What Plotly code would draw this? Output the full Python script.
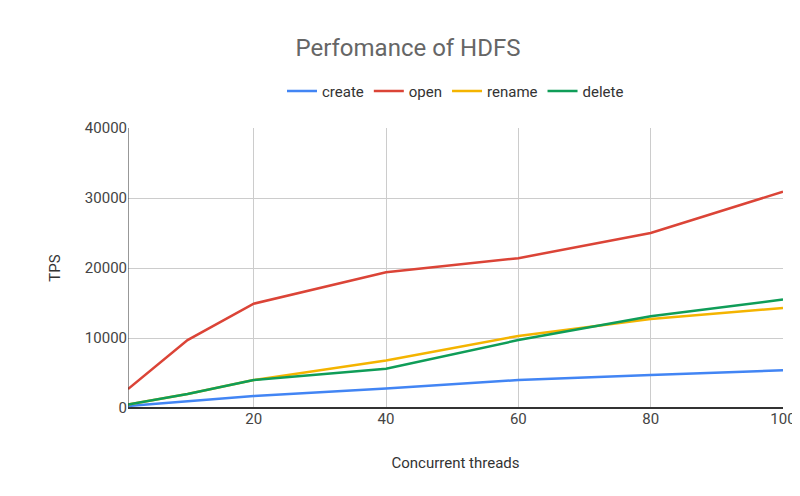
import plotly.graph_objects as go

threads = [1, 10, 20, 40, 60, 80, 100]
create = [300, 1000, 1700, 2800, 4000, 4700, 5400]
open_ = [2700, 9700, 14900, 19400, 21400, 25000, 30900]
rename = [500, 2000, 4000, 6800, 10300, 12700, 14300]
delete = [500, 2000, 4000, 5600, 9700, 13100, 15500]
ytick_vals = [0, 10000, 20000, 30000, 40000]
ytick_text = ["0", "10000", "20000", "30000", "40000"]

series = [("create", create, "#4285F4"), ("open", open_, "#DB4437"),
          ("rename", rename, "#F4B400"), ("delete", delete, "#0F9D58")]

fig = go.Figure()
for name, vals, col in series:
    fig.add_trace(go.Scatter(x=threads, y=vals, name=name, mode="lines",
                             line=dict(color=col, width=2.5)))

fig.update_layout(
    width=800, height=496, paper_bgcolor="white", plot_bgcolor="white",
    font=dict(family="Roboto", color="#444", size=14),
    title=dict(text="Perfomance of HDFS", x=0.5, xanchor="center",
               yref="container", y=0.92, yanchor="middle",
               font=dict(size=24, color="#666")),
    legend=dict(orientation="h", x=0.5, xanchor="center",
                yref="container", y=0.832, yanchor="middle",
                font=dict(size=15, color="#333")),
    margin=dict(l=120, r=25, t=120, b=96, autoexpand=False),
    xaxis=dict(range=[1, 100], tickvals=[20, 40, 60, 80, 100], showgrid=True,
               gridcolor="#ccc", zeroline=False, showline=False, automargin=False,
               title=dict(text="Concurrent threads", standoff=30,
                          font=dict(size=15, color="#333")),
               tickfont=dict(size=15, color="#444")),
    yaxis=dict(range=[0, 40000], tickvals=ytick_vals, ticktext=ytick_text,
               showgrid=True, gridcolor="#ccc", zeroline=True, zerolinecolor="#333",
               automargin=False,
               title=dict(text="TPS", standoff=20, font=dict(size=15, color="#333")),
               tickfont=dict(size=15, color="#444")),
)
fig.add_shape(type="line", xref="x", yref="paper", x0=1, x1=1, y0=0, y1=1,
              line=dict(color="#333", width=1))
fig.write_html("out.html")
